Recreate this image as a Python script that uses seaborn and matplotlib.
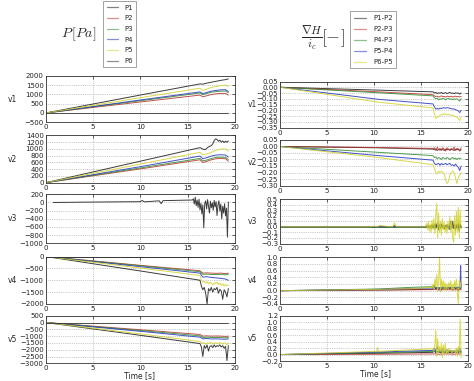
import matplotlib
matplotlib.use("Agg")
import matplotlib.pyplot as plt
import seaborn as sns
from matplotlib.lines import Line2D

# ---------------- time grids ----------------
t_z = [0, 19.3]
t_s = [0, 10.5, 16.3, 16.6, 17.0, 17.5, 18.0, 18.5, 19.0, 19.3]
t_n = [0, 10.5, 16.3, 16.45, 16.6, 16.75, 16.9, 17.05, 17.2, 17.35, 17.5, 17.65,
       17.8, 17.95, 18.1, 18.25, 18.4, 18.55, 18.7, 18.85, 19.0, 19.15, 19.3]
t_dL = [0.8, 5, 10, 10.2, 10.4, 12.0, 12.2, 12.4, 15.5, 15.6, 15.7, 15.8, 15.9, 16.0,
        16.1, 16.2, 16.3, 16.4, 16.5, 16.6, 16.7, 16.8, 16.9, 17.0, 17.1, 17.2, 17.3,
        17.4, 17.5, 17.6, 17.7, 17.8, 17.9, 18.0, 18.1, 18.2, 18.3, 18.4, 18.5, 18.6,
        18.7, 18.8, 18.9, 19.0, 19.1, 19.2, 19.3]
t_dR = [0, 9.5, 10.0, 10.4, 10.6, 12.0, 12.2, 12.4, 15.5, 15.6, 15.7, 15.8, 15.9, 16.0,
        16.1, 16.2, 16.3, 16.4, 16.5, 16.6, 16.7, 16.8, 16.9, 17.0, 17.1, 17.2, 17.3,
        17.4, 17.5, 17.6, 17.7, 17.8, 17.9, 18.0, 18.1, 18.2, 18.3, 18.4, 18.5, 18.6,
        18.7, 18.8, 18.9, 19.0, 19.1, 19.2, 19.3]
t_e4 = [0, 10.5, 14.0, 16.2, 16.3, 16.4, 16.5, 16.6, 16.7, 16.8, 16.9, 17.0, 17.1, 17.2,
        17.3, 17.4, 17.5, 17.6, 17.7, 17.8, 17.9, 18.0, 18.1, 18.2, 18.3, 18.4, 18.5,
        18.6, 18.7, 18.8, 18.9, 19.0, 19.1, 19.2, 19.3]
t_e5 = [0, 10.3, 10.4, 10.5, 16.2, 16.3, 16.4, 16.5, 16.6, 16.7, 16.8, 16.9, 17.0, 17.1,
        17.2, 17.3, 17.4, 17.5, 17.6, 17.7, 17.8, 17.9, 18.0, 18.1, 18.2, 18.3, 18.4,
        18.5, 18.6, 18.7, 18.8, 18.9, 19.0, 19.1, 19.2, 19.3]
t_b3 = [0, 15.5, 17.9, 18.0, 18.1, 18.2, 18.3, 19.3]
t_b4 = [0, 10.5, 16.2, 19.1, 19.2, 19.25, 19.3]
t_g4 = [0, 10.5, 14.0, 16.3, 17.0, 18.0, 19.3]

# ---------------- pressure series P [Pa] ----------------
L1_P1 = [0, 1010, 1560, 1545, 1600, 1650, 1700, 1750, 1790, 1830]
L1_P2 = [0, 620, 960, 870, 920, 990, 1030, 1050, 1050, 960]
L1_P3 = [0, 690, 1070, 980, 1040, 1110, 1150, 1170, 1180, 1090]
L1_P4 = [0, 730, 1130, 1040, 1100, 1170, 1210, 1240, 1250, 1150]
L1_P5 = [0, 860, 1330, 1210, 1280, 1370, 1420, 1470, 1500, 1420]
L1_P6 = [0, 0]

L2_P1 = [0, 670, 1040, 1020, 1000, 980, 990, 1030, 1060, 1080, 1100, 1150, 1250, 1300,
         1280, 1230, 1260, 1200, 1240, 1190, 1230, 1200, 1240]
L2_P2 = [0, 430, 680, 600, 630, 680, 710, 720, 710, 640]
L2_P3 = [0, 460, 720, 650, 670, 720, 750, 760, 750, 690]
L2_P4 = [0, 500, 790, 710, 740, 790, 820, 830, 820, 760]
L2_P5 = [0, 580, 900, 830, 850, 900, 960, 1000, 1000, 940]
L2_P6 = [0, 0]

L3_P1 = [0, 10, 20, 50, 15, 40, -30, 45, 60,
         90, -40, 130, -80, 60, -120, 80, -180, -20, -280, -60, -620, -30, 40, -160, 70,
         -90, -260, 30, -130, -10, -190, 50, -110, 20, -320, -60, 40, -210, -40, -400, -90,
         -260, -30, -330, -140, -850, 10]

L4_P1 = [0, -640, -1000, -1250, -1400, -1300, -1550, -2000, -1350, -1450, -1300, -1500,
         -1350, -1400, -1300, -1550, -1380, -1450, -1800, -1400, -1500, -1700, -1350]
L4_P2 = [0, -390, -600, -700, -690, -700, -710, -700, -720, -700]
L4_P3 = [0, -410, -640, -750, -740, -760, -760, -750, -770, -760]
L4_P4 = [0, -450, -700, -870, -850, -880, -900, -920, -950, -1000]
L4_P5 = [0, -510, -800, -1000, -1080, -1050, -1120, -1060, -1150, -1080, -1120, -1200,
         -1100, -1150, -1080, -1180, -1120, -1220, -1150, -1250, -1180, -1230, -1200]
L4_P6 = [0, 0]

L5_P1 = [0, -990, -1550, -1800, -2500, -1700, -1900, -1650, -2100, -1750, -1700, -1850,
         -1650, -1800, -1700, -1750, -1650, -1800, -1700, -1900, -1750, -2800, -1700]
L5_P2 = [0, -560, -880, -1000, -980, -1000, -990, -1000, -1020, -1000]
L5_P3 = [0, -620, -980, -1100, -1080, -1100, -1100, -1110, -1120, -1100]
L5_P4 = [0, -680, -1080, -1200, -1180, -1210, -1200, -1220, -1230, -1200]
L5_P5 = [0, -880, -1400, -1500, -1550, -1480, -1600, -1500, -1550, -1450, -1500, -1600,
         -1480, -1520, -1500, -1580, -1460, -1520, -1600, -1480, -1550, -1650, -1500]
L5_P6 = [0, 0]

# ---------------- gradient series dH/ic [-] ----------------
R1_12 = [0, -0.025, -0.04, -0.05, -0.045, -0.055, -0.048, -0.052, -0.045, -0.055, -0.05,
         -0.047, -0.055, -0.05, -0.045, -0.053, -0.05, -0.055, -0.048, -0.052, -0.05, -0.06, -0.05]
R1_23 = [0, -0.04, -0.065, -0.075, -0.08, -0.078, -0.085, -0.08, -0.075, -0.082, -0.08,
         -0.085, -0.078, -0.08, -0.082, -0.078, -0.085, -0.08, -0.078, -0.083, -0.08, -0.085, -0.08]
R1_43 = [0, -0.048, -0.075, -0.09, -0.1, -0.095, -0.11, -0.1, -0.105, -0.095, -0.1,
         -0.11, -0.1, -0.095, -0.105, -0.1, -0.11, -0.1, -0.105, -0.1, -0.11, -0.12, -0.1]
R1_54 = [0, -0.105, -0.145, -0.17, -0.19, -0.185, -0.19, -0.182, -0.185, -0.178, -0.18,
         -0.182, -0.178, -0.18, -0.183, -0.185, -0.19, -0.188, -0.195, -0.2, -0.205, -0.22, -0.2]
R1_65 = [0, -0.13, -0.18, -0.23, -0.27, -0.26, -0.255, -0.245, -0.24, -0.235, -0.23,
         -0.235, -0.24, -0.235, -0.24, -0.245, -0.24, -0.25, -0.255, -0.26, -0.27, -0.29, -0.26]

R2_12 = [0, -0.01, -0.02, -0.025, -0.02, -0.03, -0.022, -0.028, -0.02, -0.025, -0.03,
         -0.02, -0.025, -0.022, -0.028, -0.02, -0.025, -0.03, -0.022, -0.025, -0.02, -0.03, -0.025]
R2_23 = [0, -0.008, -0.015, -0.01, -0.03, -0.005, -0.025, -0.015, -0.03, -0.01, -0.02,
         -0.035, -0.01, -0.02, -0.03, -0.015, -0.025, -0.005, -0.03, -0.015, -0.02, -0.035, -0.01]
R2_43 = [0, -0.045, -0.07, -0.085, -0.08, -0.095, -0.085, -0.09, -0.1, -0.085, -0.09,
         -0.095, -0.085, -0.09, -0.1, -0.09, -0.085, -0.095, -0.09, -0.1, -0.09, -0.095, -0.09]
R2_54 = [0, -0.07, -0.105, -0.13, -0.14, -0.135, -0.13, -0.145, -0.13, -0.14, -0.135,
         -0.13, -0.14, -0.135, -0.13, -0.145, -0.14, -0.15, -0.135, -0.15, -0.16, -0.185, -0.15]
R2_65 = [0, -0.085, -0.14, -0.17, -0.2, -0.21, -0.19, -0.2, -0.19, -0.2, -0.21,
         -0.26, -0.285, -0.27, -0.22, -0.2, -0.19, -0.2, -0.24, -0.285, -0.24, -0.22, -0.2]

R3_12 = [0, 0, 0.005, 0, 0.01, 0, 0.02, 0, 0,
         0.02, -0.01, 0.03, -0.02, 0.02, -0.03, 0.04, -0.02, 0.05, -0.04, 0.06, -0.02, 0.08,
         -0.05, 0.04, -0.03, 0.05, -0.02, 0.03, -0.04, 0.02, -0.03, 0.04, -0.02, 0.03, -0.05,
         0.04, -0.02, 0.1, -0.03, 0.05, -0.06, 0.04, -0.02, 0.06, -0.08, 0.05, 0]
R3_23 = [0, 0]
R3_43 = [0, 0]
R3_54 = [0, 0, 0.02, -0.04, 0.05, 0.1, -0.02, 0]
R3_65 = [0, 0, 0.01, 0.0, 0.02, 0, 0.07, 0, 0.0,
         0.06, -0.05, 0.1, -0.08, 0.05, -0.1, 0.12, -0.05, 0.15, -0.12, 0.2, 0.42, -0.2, 0.25,
         -0.1, 0.1, -0.15, 0.15, -0.05, 0.08, -0.1, 0.05, -0.12, 0.1, -0.05, 0.18, -0.1, 0.12,
         -0.2, -0.28, 0.2, -0.15, 0.28, -0.1, 0.35, -0.2, 0.3, -0.05]

R4_12 = [0, 0.02, 0.04, 0.15, 0.05, 0.1, 0.03, 0.08, 0.02, 0.12, 0.05, 0.08, 0.03, 0.1,
         0.05, 0.07, 0.03, 0.1, 0.05, 0.08, 0.0, 0.1, 0.05]
R4_23 = [0, 0.02, 0.03, 0.03, 0.02, 0.03, 0.03, 0.02, 0.03, 0.03]
R4_43 = [0, 0.05, 0.1, 0.12, 0.08, 0.1, 0.1]
R4_54 = [0, 0.04, 0.08, 0.1, 0.3, 0.75, 0.1]
R4_65 = [0, 0.04, 0.06, 0.1,
         0.2, 0.05, 0.35, 0.1, 0.5, 0.0, 0.3, 1.0, -0.05, 0.35, 0.1, 0.3, 0.05, 0.25, 0.0,
         0.2, 0.05, 0.25, 0.1, 0.3, 0.0, 0.2, 0.05, 0.3, 0.1, 0.35, -0.1, -0.38, 0.3, 0.1, 0.3]

R5_12 = [0, 0.04, 0.07, 0.12, 0.05, 0.1, 0.06, 0.08, 0.05, 0.1, 0.06, 0.07, 0.05, 0.08,
         0.06, 0.07, 0.05, 0.08, 0.06, 0.07, 0.05, 0.1, 0.06]
R5_23 = [0, 0.01, 0.02, 0.02, 0.01, 0.02, 0.02, 0.01, 0.02, 0.02]
R5_43 = [0, 0.06, 0.1, 0.1, 0.09, 0.1, 0.1, 0.09, 0.1, 0.1]
R5_54 = [0, 0.08, 0.13, 0.2, 0.1, 0.25, 0.12, 0.15, 0.1, 0.18, 0.12, 0.1, 0.15, 0.12,
         0.1, 0.13, 0.1, 0.12, 0.1, 0.15, 0.1, 0.2, 0.1]
R5_65 = [0, 0.1, 0.22, 0.1, 0.18,
         0.2, 0.1, 0.3, 0.75, -0.05, 0.5, 0.05, 0.25, 0.1, 0.35, -0.1, 0.3, 0.05, 0.35, 0.0,
         0.15, 0.05, 0.2, 0.1, 0.15, 0.05, 0.12, 0.1, 0.15, 0.05, 0.2, -0.05, 0.25, 0.1, 1.1, -0.1]

# ---------------- labels ----------------
rows = ["v1", "v2", "v3", "v4", "v5"]
p_labels = ["P1", "P2", "P3", "P4", "P5", "P6"]
g_labels = ["P1-P2", "P2-P3", "P4-P3", "P5-P4", "P6-P5"]
x_ticks = [0, 5, 10, 15, 20]

left_ylim = [(-500, 2000), (0, 1400), (-1000, 200), (-2000, 0), (-3000, 500)]
left_yticks = [[-500, 0, 500, 1000, 1500, 2000],
               [0, 200, 400, 600, 800, 1000, 1200, 1400],
               [-1000, -800, -600, -400, -200, 0, 200],
               [-2000, -1500, -1000, -500, 0],
               [-3000, -2500, -2000, -1500, -1000, -500, 0, 500]]
right_ylim = [(-0.35, 0.05), (-0.30, 0.05), (-0.3, 0.5), (-0.4, 1.0), (-0.2, 1.2)]
right_yticks = [[-0.35, -0.30, -0.25, -0.20, -0.15, -0.10, -0.05, 0.00, 0.05],
                [-0.30, -0.25, -0.20, -0.15, -0.10, -0.05, 0.00, 0.05],
                [-0.3, -0.2, -0.1, 0.0, 0.1, 0.2, 0.3, 0.4, 0.5],
                [-0.4, -0.2, 0.0, 0.2, 0.4, 0.6, 0.8, 1.0],
                [-0.2, 0.0, 0.2, 0.4, 0.6, 0.8, 1.0, 1.2]]
right_fmt = ["%.2f", "%.2f", "%.1f", "%.1f", "%.1f"]

p_colors = ["#1a1a1a", "#b8322a", "#2e8b2e", "#2233bb", "#d2d22a", "#333333"]
g_colors = ["#1a1a1a", "#b8322a", "#2e8b2e", "#2233bb", "#d2d22a"]

left_series = [
    [(t_s, L1_P1), (t_s, L1_P2), (t_s, L1_P3), (t_s, L1_P4), (t_s, L1_P5), (t_z, L1_P6)],
    [(t_n, L2_P1), (t_s, L2_P2), (t_s, L2_P3), (t_s, L2_P4), (t_s, L2_P5), (t_z, L2_P6)],
    [(t_dL, L3_P1), None, None, None, None, None],
    [(t_n, L4_P1), (t_s, L4_P2), (t_s, L4_P3), (t_s, L4_P4), (t_n, L4_P5), (t_z, L4_P6)],
    [(t_n, L5_P1), (t_s, L5_P2), (t_s, L5_P3), (t_s, L5_P4), (t_n, L5_P5), (t_z, L5_P6)],
]
right_series = [
    [(t_n, R1_12), (t_n, R1_23), (t_n, R1_43), (t_n, R1_54), (t_n, R1_65)],
    [(t_n, R2_12), (t_n, R2_23), (t_n, R2_43), (t_n, R2_54), (t_n, R2_65)],
    [(t_dR, R3_12), (t_z, R3_23), (t_z, R3_43), (t_b3, R3_54), (t_dR, R3_65)],
    [(t_n, R4_12), (t_s, R4_23), (t_g4, R4_43), (t_b4, R4_54), (t_e4, R4_65)],
    [(t_n, R5_12), (t_s, R5_23), (t_s, R5_43), (t_n, R5_54), (t_e5, R5_65)],
]

# ---------------- figure ----------------
sns.set_style("white")
plt.rcParams['font.family'] = ['DejaVu Sans']
plt.rcParams['mathtext.fontset'] = 'cm'
plt.rcParams['axes.unicode_minus'] = True

W, H = 474, 381
fig = plt.figure(figsize=(W / 100, H / 100), dpi=100)
fig.patch.set_facecolor("white")


def rect(x0, x1, top, bot):
    return [x0 / W, 1 - bot / H, (x1 - x0) / W, (bot - top) / H]


left_px = [(75.7, 122.3), (135.5, 182.7), (194.3, 243.3), (256.5, 304.0), (315.7, 363.3)]
right_px = [(81.5, 127.5), (140.0, 185.5), (199.0, 243.5), (257.3, 304.0), (316.0, 361.0)]


def style(ax, ylim, yticks, fmt=None):
    ax.set_xlim(0, 20)
    ax.set_xticks(x_ticks)
    ax.set_ylim(*ylim)
    ax.set_yticks(yticks)
    if fmt:
        ax.set_yticklabels([(fmt % v).replace("-", "\u2212") for v in yticks])
    ax.set_xlabel("")
    ax.set_ylabel("")
    ax.tick_params(direction="in", length=2.5, width=0.5, labelsize=5, pad=1.5,
                   top=True, right=True, colors="#222222")
    ax.grid(True, ls=":", lw=0.5, color="#9a9a9a")
    for s in ax.spines.values():
        s.set_linewidth(0.6)
        s.set_color("#333333")


for i in range(5):
    ax = fig.add_axes(rect(45.7, 235.0, *left_px[i]))
    for j, ser in enumerate(left_series[i]):
        if ser is None:
            continue
        sns.lineplot(x=ser[0], y=ser[1], ax=ax, color=p_colors[j], lw=0.7, alpha=0.85,
                     estimator=None, sort=False, legend=False)
    style(ax, left_ylim[i], left_yticks[i])
    yc = (left_px[i][0] + left_px[i][1]) / 2
    fig.text(12 / W, 1 - yc / H, rows[i], ha="center", va="center", fontsize=5.5)

    axr = fig.add_axes(rect(280.0, 467.7, *right_px[i]))
    for j, ser in enumerate(right_series[i]):
        sns.lineplot(x=ser[0], y=ser[1], ax=axr, color=g_colors[j], lw=0.7, alpha=0.85,
                     estimator=None, sort=False, legend=False)
    style(axr, right_ylim[i], right_yticks[i], right_fmt[i])
    yc = (right_px[i][0] + right_px[i][1]) / 2
    fig.text(252 / W, 1 - yc / H, rows[i], ha="center", va="center", fontsize=5.5)

fig.text(140 / W, 1 - 376 / H, "Time [s]", ha="center", va="center", fontsize=5.5)
fig.text(375 / W, 1 - 374 / H, "Time [s]", ha="center", va="center", fontsize=5.5)

# legends
p_handles = [Line2D([], [], color=c, lw=0.9, alpha=0.55) for c in p_colors]
leg1 = fig.legend(p_handles, p_labels, loc="upper left", bbox_to_anchor=(100 / W, 1 + 2 / H),
                  fontsize=5, handlelength=1.6, labelspacing=0.68, borderpad=0.45,
                  handletextpad=1.0, frameon=True, fancybox=False, edgecolor="#777777")
leg1.get_frame().set_linewidth(0.6)
g_handles = [Line2D([], [], color=c, lw=0.9, alpha=0.55) for c in g_colors]
leg2 = fig.legend(g_handles, g_labels, loc="upper left", bbox_to_anchor=(347 / W, 1 - 8 / H),
                  fontsize=5, handlelength=1.8, labelspacing=0.72, borderpad=0.5,
                  handletextpad=1.0, frameon=True, fancybox=False, edgecolor="#777777")
leg2.get_frame().set_linewidth(0.6)

fig.text(79 / W, 1 - 34 / H, r"$P\,[Pa]$", ha="center", va="center", fontsize=10)
fig.text(312 / W, 1 - 38 / H, r"$\frac{\nabla H}{i_c}$", ha="center", va="center",
         fontsize=12)
fig.text(333 / W, 1 - 38 / H, r"$[-]$", ha="center", va="center", fontsize=13,
         color="#444444")

fig.savefig("out.png", dpi=100)
